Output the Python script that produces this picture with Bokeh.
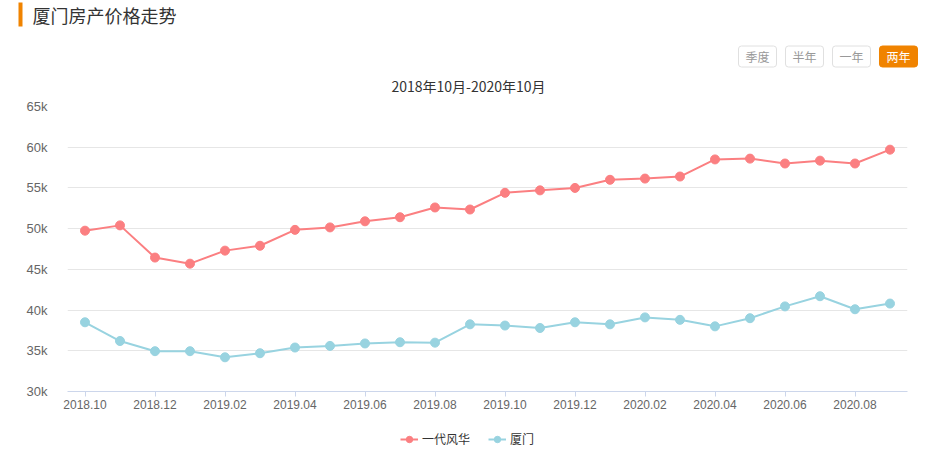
from bokeh.plotting import figure
from bokeh.layouts import column
from bokeh.models import (Range1d, FixedTicker, Label, BoxAnnotation, Legend, LegendItem,
                          ColumnDataSource)
from bokeh.embed import file_html
from bokeh.resources import INLINE

# ---------------- data ----------------
months = ["2018.10", "2018.11", "2018.12", "2019.01", "2019.02", "2019.03", "2019.04", "2019.05",
          "2019.06", "2019.07", "2019.08", "2019.09", "2019.10", "2019.11", "2019.12", "2020.01",
          "2020.02", "2020.03", "2020.04", "2020.05", "2020.06", "2020.07", "2020.08", "2020.09"]
yidai = [49750, 50400, 46450, 45700, 47300, 47900, 49850, 50150, 50900, 51400, 52600, 52350,
         54400, 54700, 55000, 56000, 56150, 56400, 58500, 58600, 58000, 58350, 58000, 59700]
xiamen = [38500, 36200, 34950, 34950, 34200, 34700, 35400, 35600, 35900, 36050, 36000, 38250,
          38100, 37800, 38500, 38250, 39100, 38800, 38000, 39000, 40450, 41700, 40100, 40800]
y_ticks = [30000, 35000, 40000, 45000, 50000, 55000, 60000, 65000]
y_tick_labels = ["30k", "35k", "40k", "45k", "50k", "55k", "60k", "65k"]
series_names = ["一代风华", "厦门"]
title_text = "厦门房产价格走势"
subtitle_text = "2018年10月-2020年10月"
buttons = ["季度", "半年", "一年", "两年"]
selected_button = "两年"

RED = "#fb7f81"
BLUE = "#98d3e0"
ORANGE = "#f08300"
CJK = "Noto Sans CJK SC"
LAT = "Liberation Sans"

W = 926
HEAD_H = 96      # canvas rows 0..96
CHART_H = 326    # canvas rows 96..422
FOOT_H = 30      # canvas rows 422..452
FL, FR = 67, 907
FT, FB = 106, 391  # frame top/bottom in whole-page pixels


def bare(h):
    f = figure(width=W, height=h, output_backend="svg", toolbar_location=None,
               x_range=Range1d(0, W), y_range=Range1d(h, 0),
               x_axis_type=None, y_axis_type=None, min_border=0,
               min_border_left=0, min_border_right=0, min_border_top=0, min_border_bottom=0)
    f.frame_align = False
    f.outline_line_color = None
    f.grid.grid_line_color = None
    f.border_fill_color = "white"
    f.background_fill_color = "white"
    return f

# ---------------- header ----------------
head = bare(HEAD_H)
head.add_layout(BoxAnnotation(left=18, right=22, top=2, bottom=26,
                              fill_color=ORANGE, fill_alpha=1, line_color=None))
head.add_layout(Label(x=32, y=14, text=title_text, text_font=CJK, text_font_size="18px",
                      text_color="#333333", text_align="left", text_baseline="middle"))
centers = [757, 804, 851, 898]
for name, cx in zip(buttons, centers):
    sel = name == selected_button
    head.add_layout(Label(x=cx, y=56, text=name, text_font=CJK, text_font_size="12px",
                          text_color="white" if sel else "#999999",
                          text_align="center", text_baseline="middle",
                          background_fill_color=ORANGE if sel else "white",
                          border_line_color=ORANGE if sel else "#e0e0e0",
                          padding=dict(left=7, right=7, top=2, bottom=2),
                          border_radius=3))
head.add_layout(Label(x=468, y=85, text=subtitle_text, text_font=CJK,
                      text_font_size="14px", text_color="#333333",
                      text_align="center", text_baseline="middle"))

# ---------------- chart ----------------
n = len(months)
p = figure(width=W, height=CHART_H, output_backend="svg", toolbar_location=None,
           x_range=Range1d(-0.5, n - 0.5), y_range=Range1d(y_ticks[0], y_ticks[-1]),
           min_border_left=FL, min_border_right=W - FR, min_border_top=FT - HEAD_H,
           min_border_bottom=HEAD_H + CHART_H - FB)
p.frame_align = False
p.outline_line_color = None
p.background_fill_color = "white"
p.border_fill_color = "white"

xs = list(range(n))
src = ColumnDataSource(dict(x=xs, a=yidai, b=xiamen))
l1 = p.line("x", "a", source=src, line_color=RED, line_width=2)
c1 = p.scatter("x", "a", source=src, size=9, fill_color=RED, line_color=RED)
l2 = p.line("x", "b", source=src, line_color=BLUE, line_width=2)
c2 = p.scatter("x", "b", source=src, size=9, fill_color=BLUE, line_color=BLUE)

p.xaxis.ticker = FixedTicker(ticks=[i for i in xs if i % 2 == 0])
p.xaxis.major_label_overrides = {i: months[i] for i in xs}
p.xaxis.axis_line_color = "#ccd6eb"
p.xaxis.major_tick_line_color = "#ccd6eb"
p.xaxis.major_tick_out = 5
p.xaxis.major_tick_in = 0
p.xaxis.minor_tick_line_color = None
p.xaxis.major_label_text_font = LAT
p.xaxis.major_label_text_font_size = "12px"
p.xaxis.major_label_text_color = "#666666"
p.xaxis.major_label_standoff = 3

p.yaxis.ticker = FixedTicker(ticks=y_ticks)
p.yaxis.major_label_overrides = {t: l for t, l in zip(y_ticks, y_tick_labels)}
p.yaxis.axis_line_color = None
p.yaxis.major_tick_line_color = None
p.yaxis.minor_tick_line_color = None
p.yaxis.major_label_text_font = LAT
p.yaxis.major_label_text_font_size = "13px"
p.yaxis.major_label_text_color = "#666666"
p.yaxis.major_label_standoff = 14

p.xgrid.grid_line_color = None
p.ygrid.grid_line_color = "#e6e6e6"
p.ygrid.ticker = FixedTicker(ticks=y_ticks[1:])

# ---------------- footer with legend ----------------
foot = bare(FOOT_H)
off = ColumnDataSource(dict(x=[-1000], y=[-1000]))
fl1 = foot.line("x", "y", source=off, line_color=RED, line_width=2)
fc1 = foot.scatter("x", "y", source=off, size=9, fill_color=RED, line_color=RED)
fl2 = foot.line("x", "y", source=off, line_color=BLUE, line_width=2)
fc2 = foot.scatter("x", "y", source=off, size=9, fill_color=BLUE, line_color=BLUE)
legend = Legend(items=[LegendItem(label=series_names[0], renderers=[fl1, fc1]),
                       LegendItem(label=series_names[1], renderers=[fl2, fc2])],
                orientation="horizontal", location=(400, 5),
                padding=0, margin=0, spacing=18, glyph_width=18, glyph_height=16,
                label_height=16, label_standoff=4, border_line_color=None,
                background_fill_alpha=0, label_text_font=CJK,
                label_text_font_size="12px", label_text_color="#333333")
foot.add_layout(legend, "center")

layout = column(head, p, foot, spacing=0)
open("out.html", "w").write(file_html(layout, INLINE))
